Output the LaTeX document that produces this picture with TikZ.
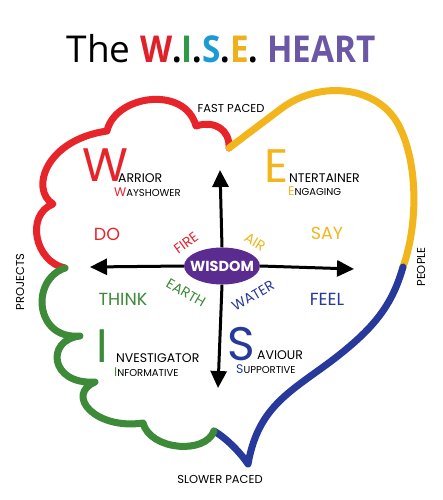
\documentclass[tikz,border=0pt]{standalone}
\usepackage{fontspec}
\setmainfont{Poppins}
\newfontfamily\titlefont{Open Sans}
\newfontfamily\titlebold{Open Sans}[FakeStretch=0.9]
\usetikzlibrary{arrows.meta,shapes.geometric}
\definecolor{wred}{HTML}{E8242B}
\definecolor{wgreen}{HTML}{3D8A39}
\definecolor{wyellow}{HTML}{F2B51C}
\definecolor{wnavy}{HTML}{27399A}
\definecolor{wpurple}{HTML}{5B2C8F}
\definecolor{tred}{HTML}{E0202A}
\definecolor{tgreen}{HTML}{2F9A45}
\definecolor{tblue}{HTML}{1B9AD6}
\definecolor{tyellow}{HTML}{F0B01C}
\definecolor{tpurple}{HTML}{6B57A5}
\tikzset{
  outline/.style={line width=7pt, line cap=round, line join=round},
  axis/.style={line width=3pt, -{Triangle[length=17pt,width=16pt]}},
  txt/.style={inner sep=0pt, anchor=base west},
  biglet/.style={txt, font=\fontsize{47}{47}\selectfont},
  firstline/.style={txt, font=\fontsize{12.5}{13}\selectfont},
  word/.style={inner sep=0pt, font=\fontsize{17.5}{19}\selectfont},
  elem/.style={inner sep=0pt, font=\fontsize{14}{15}\selectfont},
  side/.style={inner sep=0pt, font=\fontsize{11.5}{13}\selectfont},
}
\newcommand{\seclinetxt}[3]{\textcolor{#1}{\fontsize{12.5}{12}\selectfont #2}\fontsize{10}{10}\selectfont #3}
\begin{document}
\begin{tikzpicture}[x=1pt,y=-1pt]
\useasboundingbox[fill=white] (0,0) rectangle (443,500);
% title
\node[inner sep=0pt, anchor=base] (title) at (221,63) {\fontsize{37}{40}\selectfont\titlefont The \titlebold\bfseries\textcolor{tred}{W}.\textcolor{tgreen}{I}.\textcolor{tblue}{S}.\textcolor{tyellow}{E}. \textcolor{tpurple}{HEART}};
% outline
\draw[outline, wred] (65,268) .. controls (35,262) and (25,215) .. (53,204)
  .. controls (30,190) and (45,140) .. (107,131)
  .. controls (115,95) and (185,85) .. (196,126)
  .. controls (215,120) and (230,130) .. (229,148);
\draw[outline, wyellow] (229,148) -- (282,108)
  .. controls (320,80) and (380,85) .. (400,128)
  .. controls (418,165) and (418,225) .. (403,267);
\draw[outline, wnavy] (403,267) .. controls (392,305) and (375,328) .. (330,362)
  .. controls (288,393) and (258,408) .. (248,464)
  .. controls (240,452) and (226,438) .. (214,431);
\draw[outline, wgreen] (65,268) .. controls (30,280) and (35,340) .. (80,336)
  .. controls (45,340) and (50,385) .. (95,382)
  .. controls (65,395) and (95,430) .. (143,423)
  .. controls (150,450) and (205,455) .. (214,431);
% axes
\node[ellipse, fill=wpurple, minimum width=68pt, minimum height=37pt, inner xsep=-5pt, inner ysep=0pt, text=white, font=\bfseries\fontsize{14.5}{15}\selectfont] (wisdom) at (222,266) {WISDOM};
\coordinate (up) at (220,170);
\coordinate (down) at (218,388);
\coordinate (left) at (90,267);
\coordinate (right) at (354,269);
\draw[axis] (wisdom.north) -- (up);
\draw[axis] (wisdom.south) -- (down);
\draw[axis] (wisdom.west) -- (left);
\draw[axis] (wisdom.east) -- (right);
% elements
\node[elem, text=wred, rotate=36] (fire) at (186,243) {FIRE};
\node[elem, text=wyellow, rotate=-31] (air) at (255,242) {AIR};
\node[elem, text=wgreen, rotate=-30] (earth) at (186,293) {EARTH};
\node[elem, text=wnavy, rotate=30] (water) at (253,296) {WATER};
% words
\node[word, text=wred] (do) at (107,234) {DO};
\node[word, text=wyellow] (say) at (327,233) {SAY};
\node[word, text=wgreen] (think) at (123,299) {THINK};
\node[word, text=wnavy] (feel) at (327,299) {FEEL};
% W block
\node[biglet, text=wred] (bigW) at (82,181) {W};
\node[firstline] (warrior) at (118,182) {ARRIOR};
\node[txt] (way) at (114,196) {\seclinetxt{wred}{W}{AYSHOWER}};
% E block
\node[biglet, text=wyellow] (bigE) at (264,182) {E};
\node[firstline] (entert) at (289,182) {NTERTAINER};
\node[txt] (eng) at (288,195) {\seclinetxt{wyellow}{E}{NGAGING}};
% I block
\node[biglet, text=wgreen] (bigI) at (96,362) {I};
\node[firstline] (invest) at (116,362) {NVESTIGATOR};
\node[txt] (inf) at (114,376) {\seclinetxt{wgreen}{I}{NFORMATIVE}};
% S block
\node[biglet, text=wnavy] (bigS) at (227,360) {S};
\node[firstline] (saviour) at (257,359) {AVIOUR};
\node[txt] (supp) at (236,373) {\seclinetxt{wnavy}{S}{UPPORTIVE}};
% side labels
\node[side] (fast) at (231,108) {FAST PACED};
\node[side] (slow) at (220,479) {SLOWER PACED};
\node[side, rotate=90] (proj) at (20,282) {PROJECTS};
\node[side, rotate=90] (people) at (421,267) {PEOPLE};
\end{tikzpicture}
\end{document}
